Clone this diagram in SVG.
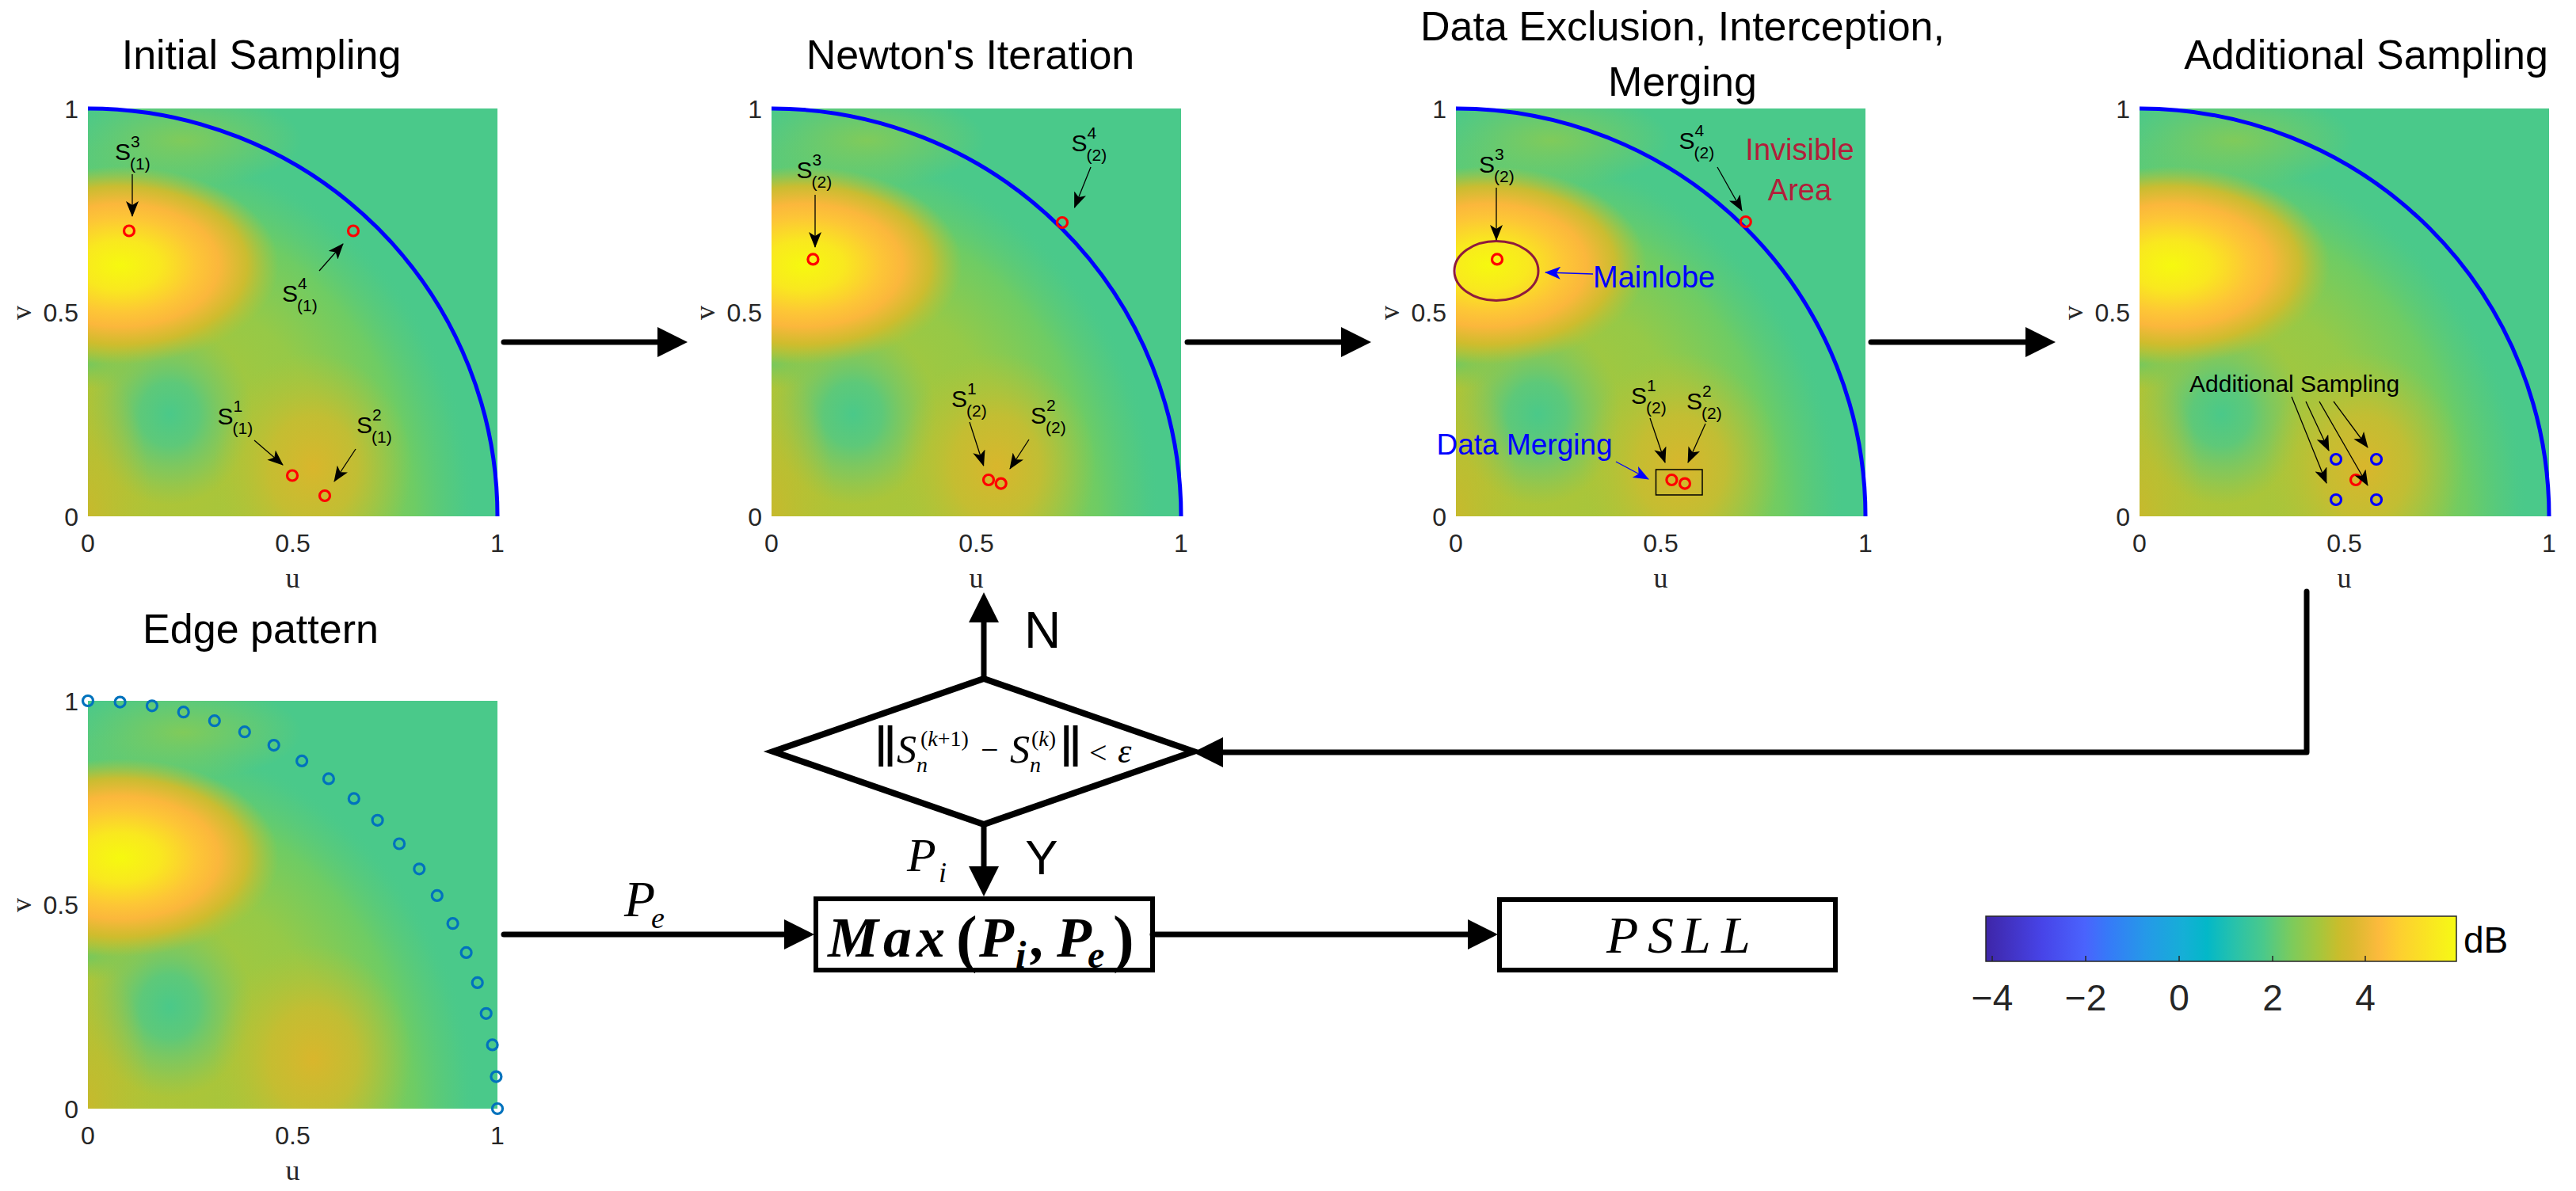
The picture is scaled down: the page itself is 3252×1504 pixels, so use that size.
<svg xmlns="http://www.w3.org/2000/svg" xmlns:xlink="http://www.w3.org/1999/xlink" width="3252" height="1504" viewBox="0 0 3252 1504">
<style>
text{font-family:"Liberation Sans",Arial,sans-serif}
.title{font-size:52px;fill:#000;text-anchor:middle}
.tick{font-size:32px;fill:#262626}
.te{text-anchor:end}
.tm{text-anchor:middle}
.ax{font-family:"Liberation Serif","Times New Roman",serif;font-size:36px;fill:#262626;text-anchor:middle}
.lbl{font-size:30px;fill:#000}
.sub{font-size:21px;fill:#000}
.mk{fill:none;stroke:#ff0000;stroke-width:3.2}
.mkb{fill:none;stroke:#0000ff;stroke-width:3.2}
.mke{fill:none;stroke:#0072bd;stroke-width:3.2}
.arc{fill:none;stroke:#0000ff;stroke-width:5}
.pa{stroke:#000;stroke-width:1.3;fill:none;marker-end:url(#sa)}
.pab{stroke:#0000ff;stroke-width:1.3;fill:none;marker-end:url(#sab)}
.conn{stroke:#000;stroke-width:7;fill:none;stroke-linecap:round;stroke-linejoin:round;marker-end:url(#ah)}
.math{font-family:"Liberation Serif","Times New Roman",serif;font-style:italic;fill:#000}
.mb{font-weight:bold}
.up{font-style:normal}
.narrow{font-family:"Liberation Sans Narrow","Liberation Sans",Arial,sans-serif;fill:#000}
.box{fill:#fff;stroke:#000;stroke-width:6}
</style>
<defs>
<clipPath id="hclip"><rect x="0" y="0" width="517" height="515"/></clipPath>
<radialGradient id="gGlow">
<stop offset="0" stop-color="#b2c335"/>
<stop offset="0.45" stop-color="#a6c63c"/>
<stop offset="0.66" stop-color="#96c947"/>
<stop offset="0.84" stop-color="#6ecc64"/>
<stop offset="0.95" stop-color="#55ca7e" stop-opacity="0.6"/>
<stop offset="1" stop-color="#4ac98a" stop-opacity="0"/>
</radialGradient>
<radialGradient id="gMin">
<stop offset="0" stop-color="#4ac989"/>
<stop offset="0.35" stop-color="#55c980" stop-opacity="0.9"/>
<stop offset="0.7" stop-color="#6cc96e" stop-opacity="0.5"/>
<stop offset="1" stop-color="#78c864" stop-opacity="0"/>
</radialGradient>
<radialGradient id="gCorner">
<stop offset="0" stop-color="#c8b92c" stop-opacity="0.95"/>
<stop offset="1" stop-color="#b8c032" stop-opacity="0"/>
</radialGradient>
<radialGradient id="gBump">
<stop offset="0" stop-color="#d9b62c"/>
<stop offset="0.45" stop-color="#cdbb2e" stop-opacity="0.8"/>
<stop offset="1" stop-color="#b5c236" stop-opacity="0"/>
</radialGradient>
<radialGradient id="gBand">
<stop offset="0" stop-color="#74c85e" stop-opacity="0.9"/>
<stop offset="1" stop-color="#80c856" stop-opacity="0"/>
</radialGradient>
<radialGradient id="gTop">
<stop offset="0" stop-color="#86cb55" stop-opacity="0.9"/>
<stop offset="1" stop-color="#86cb55" stop-opacity="0"/>
</radialGradient>
<radialGradient id="gLobe">
<stop offset="0" stop-color="#f6f90f"/>
<stop offset="0.25" stop-color="#f9e81f"/>
<stop offset="0.48" stop-color="#fdc636"/>
<stop offset="0.62" stop-color="#fbb73c"/>
<stop offset="0.8" stop-color="#d4bb2b" stop-opacity="0.9"/>
<stop offset="1" stop-color="#b8c235" stop-opacity="0"/>
</radialGradient>
<linearGradient id="gCbar" x1="0" y1="0" x2="1" y2="0">
<stop offset="0" stop-color="#3e26a8"/>
<stop offset="0.12" stop-color="#4744e8"/>
<stop offset="0.21" stop-color="#4a63fd"/>
<stop offset="0.26" stop-color="#367af8"/>
<stop offset="0.34" stop-color="#2599e8"/>
<stop offset="0.42" stop-color="#15afd6"/>
<stop offset="0.47" stop-color="#03b8c8"/>
<stop offset="0.53" stop-color="#29c2aa"/>
<stop offset="0.59" stop-color="#4ac98b"/>
<stop offset="0.65" stop-color="#7ccb5c"/>
<stop offset="0.71" stop-color="#a7c63c"/>
<stop offset="0.75" stop-color="#c9bd2c"/>
<stop offset="0.78" stop-color="#d9b92f"/>
<stop offset="0.835" stop-color="#fcba3d"/>
<stop offset="0.88" stop-color="#fdcf30"/>
<stop offset="1" stop-color="#f6fa14"/>
</linearGradient>
<g id="hm" clip-path="url(#hclip)">
<rect x="0" y="0" width="517" height="515" fill="#4ac98a"/>
<ellipse cx="0" cy="515" rx="491" ry="489" fill="url(#gGlow)"/>
<ellipse cx="120" cy="40" rx="150" ry="60" fill="url(#gTop)"/>
<ellipse cx="103" cy="386" rx="105" ry="115" fill="url(#gMin)"/>
<ellipse cx="0" cy="515" rx="80" ry="200" fill="url(#gCorner)"/>
<ellipse cx="284" cy="453" rx="125" ry="145" fill="url(#gBump)"/>
<ellipse cx="0" cy="324" rx="80" ry="30" fill="url(#gBand)"/>
<ellipse cx="41" cy="198" rx="200" ry="125" fill="url(#gLobe)"/>
</g>
<marker id="ah" markerUnits="userSpaceOnUse" markerWidth="38" markerHeight="40" viewBox="0 0 38 40" refX="8" refY="20" orient="auto"><path d="M0,1 L38,20 L0,39 z" fill="#000"/></marker>
<marker id="sa" markerUnits="userSpaceOnUse" markerWidth="20" markerHeight="16" viewBox="0 0 20 16" refX="19" refY="8" orient="auto"><path d="M0,0 L20,8 L0,16 L5,8 z" fill="#000"/></marker>
<marker id="sab" markerUnits="userSpaceOnUse" markerWidth="20" markerHeight="16" viewBox="0 0 20 16" refX="19" refY="8" orient="auto"><path d="M0,0 L20,8 L0,16 L5,8 z" fill="#0000ff"/></marker>
</defs>
<rect width="3252" height="1504" fill="#fff"/>

<!-- Plot 1: Initial Sampling -->
<g id="plot-initial">
<text class="title" x="330" y="87">Initial Sampling</text>
<use href="#hm" x="111" y="137"/>
<path class="arc" d="M111,137 A517,515 0 0 1 628,652"/>
<text class="tick te" x="99" y="148.5">1</text>
<text class="tick te" x="99" y="406">0.5</text>
<text class="tick te" x="99" y="663.5">0</text>
<text class="tick tm" x="111" y="697">0</text>
<text class="tick tm" x="369.5" y="697">0.5</text>
<text class="tick tm" x="628" y="697">1</text>
<text class="ax" x="369.5" y="742">u</text>
<text class="ax" transform="translate(39,395) rotate(-90)">v</text>
<circle class="mk" cx="163" cy="291.5" r="6.5"/>
<circle class="mk" cx="446" cy="291.5" r="6.5"/>
<circle class="mk" cx="369" cy="600.5" r="6.5"/>
<circle class="mk" cx="410" cy="626" r="6.5"/>
<text class="lbl" x="145" y="202">S</text><text class="sub" x="165" y="186">3</text><text class="sub" x="164" y="214">(1)</text>
<text class="lbl" x="356" y="381">S</text><text class="sub" x="376" y="365">4</text><text class="sub" x="375" y="393">(1)</text>
<text class="lbl" x="274.5" y="536">S</text><text class="sub" x="294.5" y="520">1</text><text class="sub" x="293.5" y="548">(1)</text>
<text class="lbl" x="450" y="547">S</text><text class="sub" x="470" y="531">2</text><text class="sub" x="469" y="559">(1)</text>
<path class="pa" d="M167,220 L167,273"/>
<path class="pa" d="M403,342 L433,308"/>
<path class="pa" d="M321,556 L357,587"/>
<path class="pa" d="M449,567 L422,608"/>
</g>

<!-- Plot 2: Newton's Iteration -->
<g id="plot-newton">
<text class="title" x="1225" y="87">Newton's Iteration</text>
<use href="#hm" x="974" y="137"/>
<path class="arc" d="M974,137 A517,515 0 0 1 1491,652"/>
<text class="tick te" x="962" y="148.5">1</text>
<text class="tick te" x="962" y="406">0.5</text>
<text class="tick te" x="962" y="663.5">0</text>
<text class="tick tm" x="974" y="697">0</text>
<text class="tick tm" x="1232.5" y="697">0.5</text>
<text class="tick tm" x="1491" y="697">1</text>
<text class="ax" x="1232.5" y="742">u</text>
<text class="ax" transform="translate(902,395) rotate(-90)">v</text>
<circle class="mk" cx="1026.4" cy="327.4" r="6.5"/>
<circle class="mk" cx="1341" cy="281" r="6.5"/>
<circle class="mk" cx="1248" cy="606" r="6.5"/>
<circle class="mk" cx="1263.7" cy="610.6" r="6.5"/>
<text class="lbl" x="1005.5" y="225">S</text><text class="sub" x="1025.5" y="209">3</text><text class="sub" x="1024.5" y="237">(2)</text>
<text class="lbl" x="1352.5" y="190.5">S</text><text class="sub" x="1372.5" y="174.5">4</text><text class="sub" x="1371.5" y="202.5">(2)</text>
<text class="lbl" x="1201" y="514">S</text><text class="sub" x="1221" y="498">1</text><text class="sub" x="1220" y="526">(2)</text>
<text class="lbl" x="1301" y="535">S</text><text class="sub" x="1321" y="519">2</text><text class="sub" x="1320" y="547">(2)</text>
<path class="pa" d="M1029,246 L1029,312"/>
<path class="pa" d="M1377,211 L1356.5,262"/>
<path class="pa" d="M1224,533 L1241.7,588"/>
<path class="pa" d="M1299,555 L1275,592"/>
</g>

<!-- Plot 3: Data Exclusion, Interception, Merging -->
<g id="plot-exclusion">
<text class="title" x="2124" y="51">Data Exclusion, Interception,</text>
<text class="title" x="2124" y="121">Merging</text>
<use href="#hm" x="1838" y="137"/>
<path class="arc" d="M1838,137 A517,515 0 0 1 2355,652"/>
<text class="tick te" x="1826" y="148.5">1</text>
<text class="tick te" x="1826" y="406">0.5</text>
<text class="tick te" x="1826" y="663.5">0</text>
<text class="tick tm" x="1838" y="697">0</text>
<text class="tick tm" x="2096.5" y="697">0.5</text>
<text class="tick tm" x="2355" y="697">1</text>
<text class="ax" x="2096.5" y="742">u</text>
<text class="ax" transform="translate(1766,395) rotate(-90)">v</text>
<ellipse cx="1889" cy="342" rx="53" ry="37.5" fill="none" stroke="#8e1b3e" stroke-width="3"/>
<rect x="2090.5" y="593" width="58.5" height="32" fill="none" stroke="#000" stroke-width="1.5"/>
<circle class="mk" cx="1890" cy="327.4" r="6.5"/>
<circle class="mk" cx="2203.8" cy="280" r="6.5"/>
<circle class="mk" cx="2110.4" cy="606" r="6.5"/>
<circle class="mk" cx="2127" cy="610.6" r="6.5"/>
<text class="lbl" x="1867" y="218">S</text><text class="sub" x="1887" y="202">3</text><text class="sub" x="1886" y="230">(2)</text>
<text class="lbl" x="2119.6" y="188">S</text><text class="sub" x="2139.6" y="172">4</text><text class="sub" x="2138.6" y="200">(2)</text>
<text class="lbl" x="2059" y="509.6">S</text><text class="sub" x="2079" y="493.6">1</text><text class="sub" x="2078" y="521.6">(2)</text>
<text class="lbl" x="2129" y="516.5">S</text><text class="sub" x="2149" y="500.5">2</text><text class="sub" x="2148" y="528.5">(2)</text>
<path class="pa" d="M1889,237 L1889,303"/>
<path class="pa" d="M2168,211 L2199,266"/>
<path class="pa" d="M2083,528 L2102,584"/>
<path class="pa" d="M2153,535 L2131,584"/>
<text x="2272" y="202" font-size="38" fill="#b21e3a" text-anchor="middle">Invisible</text>
<text x="2272" y="253" font-size="38" fill="#b21e3a" text-anchor="middle">Area</text>
<text x="2011" y="363" font-size="38" fill="#0000ff">Mainlobe</text>
<path class="pab" d="M2011,346 L1951,344"/>
<text x="1813.5" y="574" font-size="37" fill="#0000ff">Data Merging</text>
<path class="pab" d="M2040,583 L2081,605"/>
</g>

<!-- Plot 4: Additional Sampling -->
<g id="plot-additional">
<text class="title" x="2987" y="87">Additional Sampling</text>
<use href="#hm" x="2701" y="137"/>
<path class="arc" d="M2701,137 A517,515 0 0 1 3218,652"/>
<text class="tick te" x="2689" y="148.5">1</text>
<text class="tick te" x="2689" y="406">0.5</text>
<text class="tick te" x="2689" y="663.5">0</text>
<text class="tick tm" x="2701" y="697">0</text>
<text class="tick tm" x="2959.5" y="697">0.5</text>
<text class="tick tm" x="3218" y="697">1</text>
<text class="ax" x="2959.5" y="742">u</text>
<text class="ax" transform="translate(2629,395) rotate(-90)">v</text>
<circle class="mk" cx="2974" cy="606" r="6.5"/>
<circle class="mkb" cx="2949" cy="580" r="6.5"/>
<circle class="mkb" cx="3000" cy="580" r="6.5"/>
<circle class="mkb" cx="2949" cy="631" r="6.5"/>
<circle class="mkb" cx="3000" cy="631" r="6.5"/>
<text x="2764" y="495" font-size="30" fill="#000">Additional Sampling</text>
<path class="pa" d="M2893,501 L2937,610"/>
<path class="pa" d="M2911,507 L2940,569"/>
<path class="pa" d="M2928,507 L2989,613"/>
<path class="pa" d="M2946,507 L2989,565"/>
</g>

<!-- Edge pattern -->
<g id="plot-edge">
<text class="title" x="329" y="812">Edge pattern</text>
<use href="#hm" x="111" y="885"/>
<text class="tick te" x="99" y="896.5">1</text>
<text class="tick te" x="99" y="1154">0.5</text>
<text class="tick te" x="99" y="1411.5">0</text>
<text class="tick tm" x="111" y="1445">0</text>
<text class="tick tm" x="369.5" y="1445">0.5</text>
<text class="tick tm" x="628" y="1445">1</text>
<text class="ax" x="369.5" y="1490">u</text>
<text class="ax" transform="translate(39,1143) rotate(-90)">v</text>
<g class="mke">
<circle cx="111" cy="885" r="6.5"/><circle cx="151.6" cy="886.6" r="6.5"/><circle cx="191.9" cy="891.3" r="6.5"/>
<circle cx="231.7" cy="899.2" r="6.5"/><circle cx="270.8" cy="910.2" r="6.5"/><circle cx="308.8" cy="924.2" r="6.5"/>
<circle cx="345.7" cy="941.1" r="6.5"/><circle cx="381.1" cy="960.9" r="6.5"/><circle cx="414.9" cy="983.4" r="6.5"/>
<circle cx="446.8" cy="1008.4" r="6.5"/><circle cx="476.6" cy="1035.8" r="6.5"/><circle cx="504.1" cy="1065.5" r="6.5"/>
<circle cx="529.3" cy="1097.3" r="6.5"/><circle cx="551.8" cy="1130.9" r="6.5"/><circle cx="571.6" cy="1166.2" r="6.5"/>
<circle cx="588.6" cy="1202.9" r="6.5"/><circle cx="602.7" cy="1240.9" r="6.5"/><circle cx="613.7" cy="1279.8" r="6.5"/>
<circle cx="621.6" cy="1319.4" r="6.5"/><circle cx="626.4" cy="1359.6" r="6.5"/><circle cx="628" cy="1400" r="6.5"/>
</g>
</g>

<!-- Decision node -->
<g id="node-decision">
<polygon points="1242,857 1507,949 1242,1041 976,949" fill="#fff" stroke="#000" stroke-width="8"/>
<text x="1103" y="968" font-family="DejaVu Sans" font-size="72">‖</text>
<text class="math" x="1132" y="963" font-size="50">S</text>
<text class="math" x="1162" y="942" font-size="28"><tspan class="up">(</tspan>k<tspan class="up">+1)</tspan></text>
<text class="math" x="1157" y="975" font-size="28">n</text>
<text class="math up" x="1238" y="960" font-size="40">−</text>
<text class="math" x="1275" y="963" font-size="50">S</text>
<text class="math" x="1302" y="942" font-size="28"><tspan class="up">(</tspan>k<tspan class="up">)</tspan></text>
<text class="math" x="1300" y="975" font-size="28">n</text>
<text x="1337" y="968" font-family="DejaVu Sans" font-size="72">‖</text>
<text class="math up" x="1375" y="964" font-size="40">&lt;</text>
<text class="math" x="1411" y="963" font-size="44">ε</text>
</g>

<!-- Max node -->
<g id="node-max">
<rect class="box" x="1030" y="1135" width="425" height="90"/>
<text class="math mb" x="1045" y="1208" font-size="72" letter-spacing="6">Max</text>
<text class="math mb up" x="1207" y="1212" font-size="80">(</text>
<text class="math mb" x="1236" y="1208" font-size="72">P</text>
<text class="math mb" x="1282" y="1222" font-size="48">i</text>
<text class="math mb" x="1302" y="1208" font-size="72">,</text>
<text class="math mb" x="1334" y="1208" font-size="72">P</text>
<text class="math mb" x="1373" y="1222" font-size="48">e</text>
<text class="math mb up" x="1405" y="1212" font-size="80">)</text>
</g>

<!-- PSLL node -->
<g id="node-psll">
<rect class="box" x="1893" y="1136" width="424" height="89" stroke-width="5.5"/>
<text class="math" x="2028 2080 2123 2173" y="1203" font-size="66">PSLL</text>
</g>

<!-- Connectors -->
<g id="connectors">
<path class="conn" d="M636,432 H838"/>
<path class="conn" d="M1499,432 H1701"/>
<path class="conn" d="M2362,432 H2565"/>
<path class="conn" d="M2912,747 V950 H1536"/>
<path class="conn" d="M1242,857 V778"/>
<path class="conn" d="M1242,1041 V1102"/>
<path class="conn" d="M636,1180 H998"/>
<path class="conn" d="M1455,1180 H1861"/>
<text class="narrow" x="1316" y="818" font-size="64" text-anchor="middle">N</text>
<text class="narrow" x="1315" y="1104" font-size="62" text-anchor="middle">Y</text>
<text class="math" x="1145" y="1100" font-size="60">P</text>
<text class="math" x="1185" y="1114" font-size="36">i</text>
<text class="math" x="788" y="1157" font-size="64">P</text>
<text class="math" x="822" y="1172" font-size="38">e</text>
</g>

<!-- Colorbar -->
<g id="colorbar">
<rect x="2507" y="1157" width="594" height="57" fill="url(#gCbar)" stroke="#262626" stroke-width="1.5"/>
<g stroke="#262626" stroke-width="1.5">
<line x1="2515" y1="1214" x2="2515" y2="1207"/>
<line x1="2633" y1="1214" x2="2633" y2="1207"/>
<line x1="2751" y1="1214" x2="2751" y2="1207"/>
<line x1="2869" y1="1214" x2="2869" y2="1207"/>
<line x1="2986" y1="1214" x2="2986" y2="1207"/>
</g>
<g font-size="46" fill="#262626" text-anchor="middle">
<text x="2515" y="1276">−4</text>
<text x="2633" y="1276">−2</text>
<text x="2751" y="1276">0</text>
<text x="2869" y="1276">2</text>
<text x="2986" y="1276">4</text>
</g>
<text x="3110" y="1203" font-size="46" fill="#000">dB</text>
</g>
</svg>
